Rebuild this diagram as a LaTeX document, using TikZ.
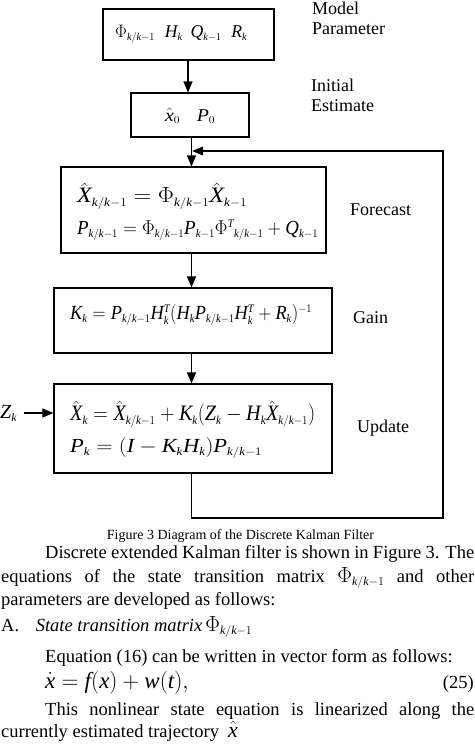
\RequirePackage{fix-cm}
\documentclass[tikz,border=0pt]{standalone}
\usepackage{amsmath}
\usepackage{graphicx}
\usepackage{fontspec}
\setmainfont{Liberation Serif}
\setmathrm{Liberation Serif}
\newfontfamily\tmsfam{Liberation Serif}[NFSSFamily=libser]
\DeclareSymbolFont{tmsit}{TU}{libser}{m}{it}
\DeclareMathSymbol{X}{\mathalpha}{tmsit}{`X}
\DeclareMathSymbol{P}{\mathalpha}{tmsit}{`P}
\DeclareMathSymbol{K}{\mathalpha}{tmsit}{`K}
\DeclareMathSymbol{H}{\mathalpha}{tmsit}{`H}
\DeclareMathSymbol{R}{\mathalpha}{tmsit}{`R}
\DeclareMathSymbol{Q}{\mathalpha}{tmsit}{`Q}
\DeclareMathSymbol{Z}{\mathalpha}{tmsit}{`Z}
\DeclareMathSymbol{I}{\mathalpha}{tmsit}{`I}
\DeclareMathSymbol{T}{\mathalpha}{tmsit}{`T}
\DeclareMathSymbol{k}{\mathalpha}{tmsit}{`k}
\DeclareMathSymbol{x}{\mathalpha}{tmsit}{`x}
\DeclareMathSymbol{f}{\mathalpha}{tmsit}{`f}
\DeclareMathSymbol{w}{\mathalpha}{tmsit}{`w}
\DeclareMathSymbol{t}{\mathalpha}{tmsit}{`t}
\DeclareMathSymbol{/}{\mathord}{tmsit}{`/}
\DeclareMathSizes{20}{20}{11.5}{9}
\DeclareMathSizes{18}{18}{10.5}{8}
\DeclareMathSizes{22}{22}{12}{9}
\DeclareMathSizes{23}{23}{13}{10}
\usetikzlibrary{arrows.meta}
\begin{document}
\begin{tikzpicture}[x=1pt,y=-1pt,
  box/.style={draw,line width=1.1pt,inner sep=0pt},
  arr/.style={line width=1.1pt,-{Triangle[length=11pt,width=9pt]}},
  lbl/.style={font=\fontsize{18}{20}\selectfont,anchor=west,inner sep=0pt,align=left},
  fml/.style={anchor=west,inner sep=0pt,font=\fontsize{20}{22}\selectfont},
  fmlbig/.style={anchor=west,inner sep=0pt,font=\fontsize{22}{24}\selectfont},
  fmlsmall/.style={anchor=west,inner sep=0pt,font=\fontsize{18}{20}\selectfont},
  para/.style={font=\fontsize{18.5}{22}\selectfont,anchor=base west,inner sep=0pt},
  captext/.style={font=\fontsize{14}{16}\selectfont,anchor=base,inner sep=0pt}]
\useasboundingbox[fill=white] (0,0) rectangle (474,744);

% boxes
\node[box,minimum width=171pt,minimum height=51pt] (b1) at (188.5,34.5) {};
\node[box,minimum width=118pt,minimum height=44pt] (b2) at (190,115) {};
\node[box,minimum width=265pt,minimum height=86pt] (b3) at (193.5,210) {};
\node[box,minimum width=278pt,minimum height=65pt] (b4) at (193,320.5) {};
\node[box,minimum width=278pt,minimum height=89pt] (b5) at (193,428.5) {};

% formulas
\node[fmlsmall] (f1) at (115,34) {\resizebox{132pt}{\height}{$\Phi_{k/k-1}\;\;H_k\;\,Q_{k-1}\;\;R_k$}};
\node[fmlsmall] (f2) at (165,116) {\resizebox{50pt}{\height}{$\hat{x}_0\;\;\;P_0$}};
\node[fmlbig] (f3a) at (77,196) {\resizebox{170pt}{\height}{$\hat{X}_{k/k-1}=\Phi_{k/k-1}\hat{X}_{k-1}$}};
\node[fml] (f3b) at (77,230) {\resizebox{241pt}{\height}{$P_{k/k-1}=\Phi_{k/k-1}P_{k-1}\Phi^{T}{}_{k/k-1}+Q_{k-1}$}};
\node[fml] (f4) at (70,315) {\resizebox{242pt}{\height}{$K_k=P_{k/k-1}H_k^{T}(H_kP_{k/k-1}H_k^{T}+R_k)^{-1}$}};
\node[fmlbig] (f5a) at (70,414) {\resizebox{245pt}{\height}{$\hat{X}_k=\hat{X}_{k/k-1}+K_k(Z_k-H_k\hat{X}_{k/k-1})$}};
\node[fml] (f5b) at (70,448) {\resizebox{192pt}{\height}{$P_k=(I-K_kH_k)P_{k/k-1}$}};

% side labels
\node[lbl] (l1) at (312,18) {Model\\Parameter};
\node[lbl] (l2) at (311,95) {Initial\\Estimate};
\node[lbl] (l3) at (350,210) {Forecast};
\node[lbl] (l4) at (353,318) {Gain};
\node[lbl] (l5) at (357,428) {Update};

% input
\node[font=\fontsize{20}{22}\selectfont,anchor=west,inner sep=0pt] (zk) at (0,413) {$Z_k$};

% connectors
\coordinate (sa) at (188,0);
\coordinate (sp) at (191.5,0);
\coordinate (fb1) at (191.5,518);
\coordinate (fb2) at (443,518);
\coordinate (fb3) at (443,151);
\coordinate (fb4) at (192.2,151);
\draw[arr] (b1.south -| sa) -- (b2.north -| sa);
\draw[arr] (b2.south -| sp) -- (b3.north -| sp);
\draw[arr] (b3.south -| sp) -- (b4.north -| sp);
\draw[arr] (b4.south -| sp) -- (b5.north -| sp);
\draw[arr] (b5.south -| sp) -- (fb1) -- (fb2) -- (fb3) -- (fb4);
\draw[arr] ([xshift=7pt]zk.east) -- (b5.west |- zk.east);

% caption and text
\node[captext] (cp) at (240.5,539) {Figure 3 Diagram of the Discrete Kalman Filter};
\node[para] (t1) at (45,558) {\makebox[429pt][s]{Discrete extended Kalman filter is shown in Figure 3. The}};
\node[para] (t2) at (1,582) {\makebox[473pt][s]{equations of the state transition matrix {\fontsize{22}{22}\selectfont$\Phi_{k/k-1}$} and other}};
\node[para] (t3) at (1,605) {parameters are developed as follows:};
\node[para] (t4) at (1,631) {A.\hspace{0.9em}\textit{State transition matrix}\,{\fontsize{22}{22}\selectfont$\Phi_{k/k-1}$}};
\node[para] (t5) at (45,662) {Equation (16) can be written in vector form as follows:};
\node[para] (t6) at (45,688) {\fontsize{23}{24}\selectfont$\dot{x}=f(x)+w(t),$};
\node[para,anchor=base east] (t6n) at (474,688) {(25)};
\node[para] (t7) at (45,715) {\makebox[429pt][s]{This nonlinear state equation is linearized along the}};
\node[para] (t8) at (1,737) {currently estimated trajectory \ {\fontsize{22}{22}\selectfont$\hat{x}$}};
\end{tikzpicture}
\end{document}
